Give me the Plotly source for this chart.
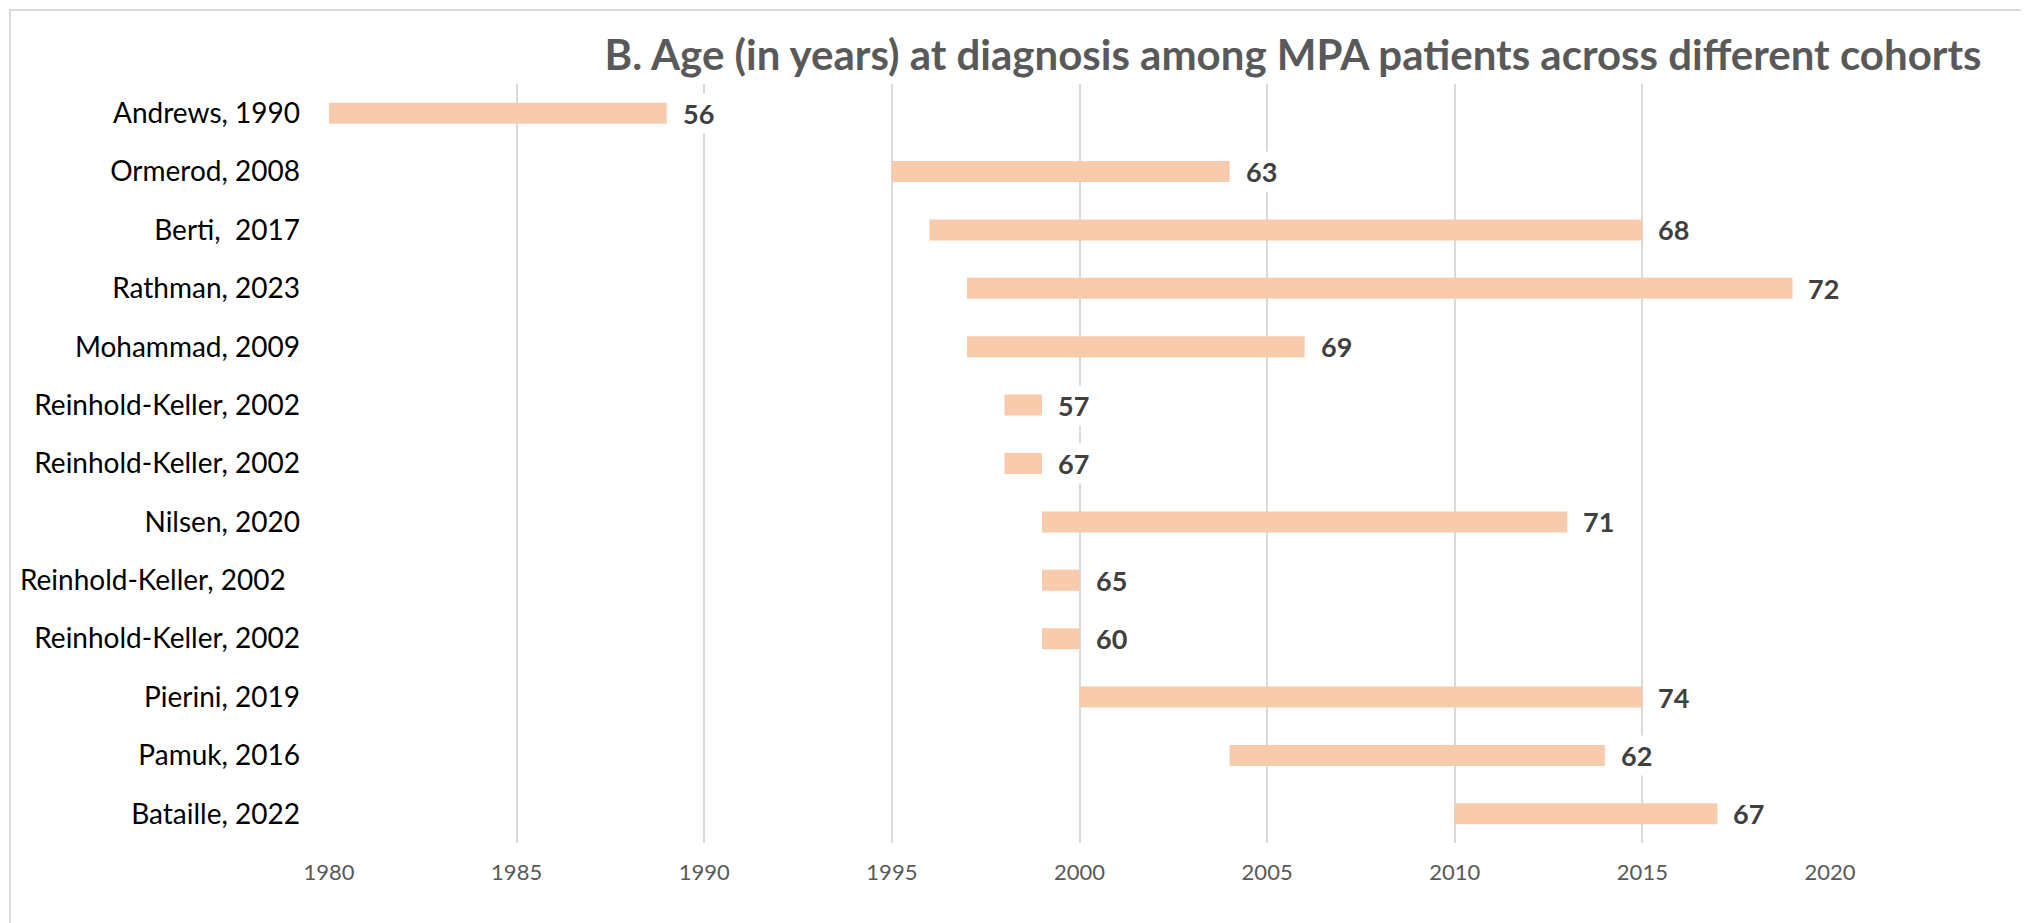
import plotly.graph_objects as go

# ---- data ----
studies = [
    "Andrews, 1990",
    "Ormerod, 2008",
    "Berti,\u00a0\u00a02017",
    "Rathman, 2023",
    "Mohammad, 2009",
    "Reinhold-Keller, 2002",
    "Reinhold-Keller, 2002",
    "Nilsen, 2020",
    "Reinhold-Keller, 2002\u00a0\u00a0",
    "Reinhold-Keller, 2002",
    "Pierini, 2019",
    "Pamuk, 2016",
    "Bataille, 2022",
]
start_year = [1980, 1995, 1996, 1997, 1997, 1998, 1998, 1999, 1999, 1999, 2000, 2004, 2010]
end_year = [1989, 2004, 2015, 2019, 2006, 1999, 1999, 2013, 2000, 2000, 2015, 2014, 2017]
age_at_diagnosis = [56, 63, 68, 72, 69, 57, 67, 71, 65, 60, 74, 62, 67]
x_ticks = [1980, 1985, 1990, 1995, 2000, 2005, 2010, 2015, 2020]

W, H = 2029, 923
L, R, T, B = 321, 207, 76, 88

pos = list(range(len(studies)))
durations = [e - s for s, e in zip(start_year, end_year)]

fig = go.Figure()
fig.add_trace(go.Bar(
    y=pos,
    x=durations,
    base=start_year,
    orientation="h",
    marker=dict(color="#F8CBAD", line=dict(width=0)),
    hoverinfo="skip",
    showlegend=False,
))

annotations = []
for p, e, a in zip(pos, end_year, age_at_diagnosis):
    annotations.append(dict(
        x=e, y=p, xref="x", yref="y",
        text=f"<b>{a}</b>", showarrow=False,
        xanchor="left", yanchor="middle", xshift=12,
        bgcolor="white", borderpad=3,
        font=dict(family="Lato", size=27, color="#404040"),
    ))

fig.update_layout(
    width=W, height=H,
    margin=dict(l=L, r=R, t=T, b=B),
    paper_bgcolor="white", plot_bgcolor="white",
    bargap=0.64,
    title=dict(
        text="<b>B. Age (in years) at diagnosis among MPA patients across different cohorts</b>",
        x=1285 / W, xanchor="center", xref="container",
        y=1 - 47 / H, yanchor="middle", yref="container",
        font=dict(family="Lato", size=42, color="#595959"),
    ),
    xaxis=dict(
        range=[1980, 2020], tickvals=x_ticks, ticktext=[str(t) for t in x_ticks],
        showgrid=True, gridcolor="#D9D9D9", gridwidth=2,
        zeroline=False, showline=False, ticks="",
        tickfont=dict(family="Lato", size=22, color="#595959"),
        ticklabelstandoff=14,
    ),
    yaxis=dict(
        range=[len(studies) - 0.5, -0.5],
        tickvals=pos, ticktext=studies,
        showgrid=False, zeroline=False, showline=False, ticks="",
        tickfont=dict(family="Lato", size=28, color="#000000"),
        ticklabelstandoff=28,
    ),
    annotations=annotations,
    font=dict(family="Lato"),
)

# outer chart border
pw, ph = W - L - R, H - T - B
fig.add_shape(
    type="rect", xref="paper", yref="paper",
    x0=-(L - 2) / pw, x1=1 + (R - 2) / pw,
    y0=-(B - 2) / ph, y1=1 + (T - 2) / ph,
    line=dict(color="#D9D9D9", width=2), fillcolor="rgba(0,0,0,0)", layer="below",
)

fig.write_html("out.html")
